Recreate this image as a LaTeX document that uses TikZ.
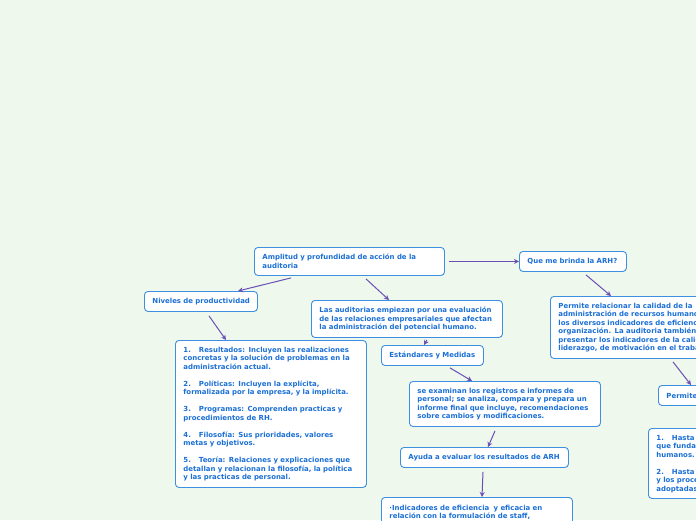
\documentclass[tikz,border=0pt]{standalone}
\usepackage{fontspec}
\newfontfamily\dej{DejaVu Sans}
\usetikzlibrary{arrows.meta,calc}
\definecolor{bgc}{HTML}{EEF8EC}
\definecolor{boxc}{HTML}{3D8FE0}
\definecolor{txtc}{HTML}{1A6FD6}
\definecolor{arrc}{HTML}{6A4FB5}
\tikzset{
  mbox/.style n args={2}{draw=boxc, line width=0.9pt, rounded corners=3.5pt, fill=white,
    text=txtc, font=\dej\bfseries\fontsize{6.95}{8.5}\selectfont, align=left,
    anchor=north west, inner xsep=8pt, inner ysep=4pt,
    text width=#1-16pt, minimum width=#1, minimum height=#2},
  conn/.style={draw=arrc, line width=1pt, -{Stealth[length=5pt,width=5pt]}}
}
\begin{document}
\begin{tikzpicture}[x=1pt,y=-1pt]
\useasboundingbox (0,0) rectangle (696,520);
\fill[bgc] (0,0) rectangle (696,520);
\clip (0,0) rectangle (696,520);
\node[mbox={190pt}{28pt}] (amp) at (254,247) {Amplitud y profundidad de acción de la\\auditoria};
\node[mbox={113pt}{20pt}] (niv) at (144,291) {\mbox{Niveles de productividad}};
\node[mbox={191pt}{37pt}] (aud) at (311,300) {Las auditorias empiezan por una evaluación\\de las relaciones empresariales que afectan\\la administración del potencial humano.};
\node[mbox={102pt}{20pt}] (est) at (381,345) {\mbox{Estándares y Medidas}};
\node[mbox={191pt}{147pt}] (lst) at (175,340) {1.\hspace{8pt}Resultados: Incluyen las realizaciones\\concretas y la solución de problemas en la\\administración actual.\\[8.5pt]2.\hspace{8pt}Políticas: Incluyen la explícita,\\formalizada por la empresa, y la implícita.\\[8.5pt]3.\hspace{8pt}Programas: Comprenden practicas y\\procedimientos de RH.\\[8.5pt]4.\hspace{8pt}Filosofía: Sus prioridades, valores\\metas y objetivos.\\[8.5pt]5.\hspace{8pt}Teoría: Relaciones y explicaciones que\\detallan y relacionan la filosofía, la política\\y las practicas de personal.};
\node[mbox={191pt}{45pt}] (sex) at (409,381) {se examinan los registros e informes de\\personal; se analiza, compara y prepara un\\informe final que incluye, recomendaciones\\sobre cambios y modificaciones.};
\node[mbox={168pt}{20pt}] (ayu) at (400,447) {\mbox{Ayuda a evaluar los resultados de ARH}};
\node[mbox={191pt}{40pt}, inner ysep=5pt] (ind) at (381,497) {·Indicadores de eficiencia\hspace{2pt} y eficacia en\\relación con la formulación de staff,\\\strut};
\node[mbox={107pt}{20pt}] (que) at (519,251) {\mbox{Que me brinda la ARH?}};
\node[mbox={191pt}{62pt}] (per) at (550,296) {\mbox{Permite relacionar la calidad de la}\\\mbox{administración de recursos humanos con}\\\mbox{los diversos indicadores de eficiencia de la}\\\mbox{organización. La auditoria también permite}\\\mbox{presentar los indicadores de la calidad del}\\\mbox{liderazgo, de motivación en el trabajo.}};
\node[mbox={100pt}{20pt}] (pe2) at (658,385) {\mbox{Permite}};
\node[mbox={191pt}{70pt}] (has) at (648,428) {\mbox{1.\hspace{8pt}Hasta qué punto las políticas}\\\mbox{que fundamentan la administración de}\\\mbox{humanos.}\\[8.5pt]\mbox{2.\hspace{8pt}Hasta qué punto las prácticas}\\\mbox{y los procedimientos}\\\mbox{adoptadas}};
\draw[conn] ($(amp.south west)+(37,2)$) -- ($(niv.north west)+(94,0)$);
\draw[conn] ($(amp.south west)+(112,3)$) -- ($(aud.north west)+(78,0)$);
\draw[conn] ($(amp.east)+(4,0)$) -- (que.west);
\draw[conn] ($(niv.south west)+(65,4)$) -- ($(lst.north west)+(51,0)$);
\draw[conn] ($(aud.south west)+(116,2)$) -- ($(est.north west)+(43,0)$);
\draw[conn] ($(est.south west)+(69,2)$) -- ($(sex.north west)+(63,0)$);
\draw[conn] ($(sex.south west)+(86,4)$) -- ($(ayu.north west)+(88,0)$);
\draw[conn] ($(ayu.south west)+(83,4)$) -- ($(ind.north west)+(101,0)$);
\draw[conn] ($(que.south west)+(67,3)$) -- ($(per.north west)+(61,0)$);
\draw[conn] ($(per.south west)+(123,3)$) -- ($(pe2.north west)+(33,0)$);
\end{tikzpicture}
\end{document}
